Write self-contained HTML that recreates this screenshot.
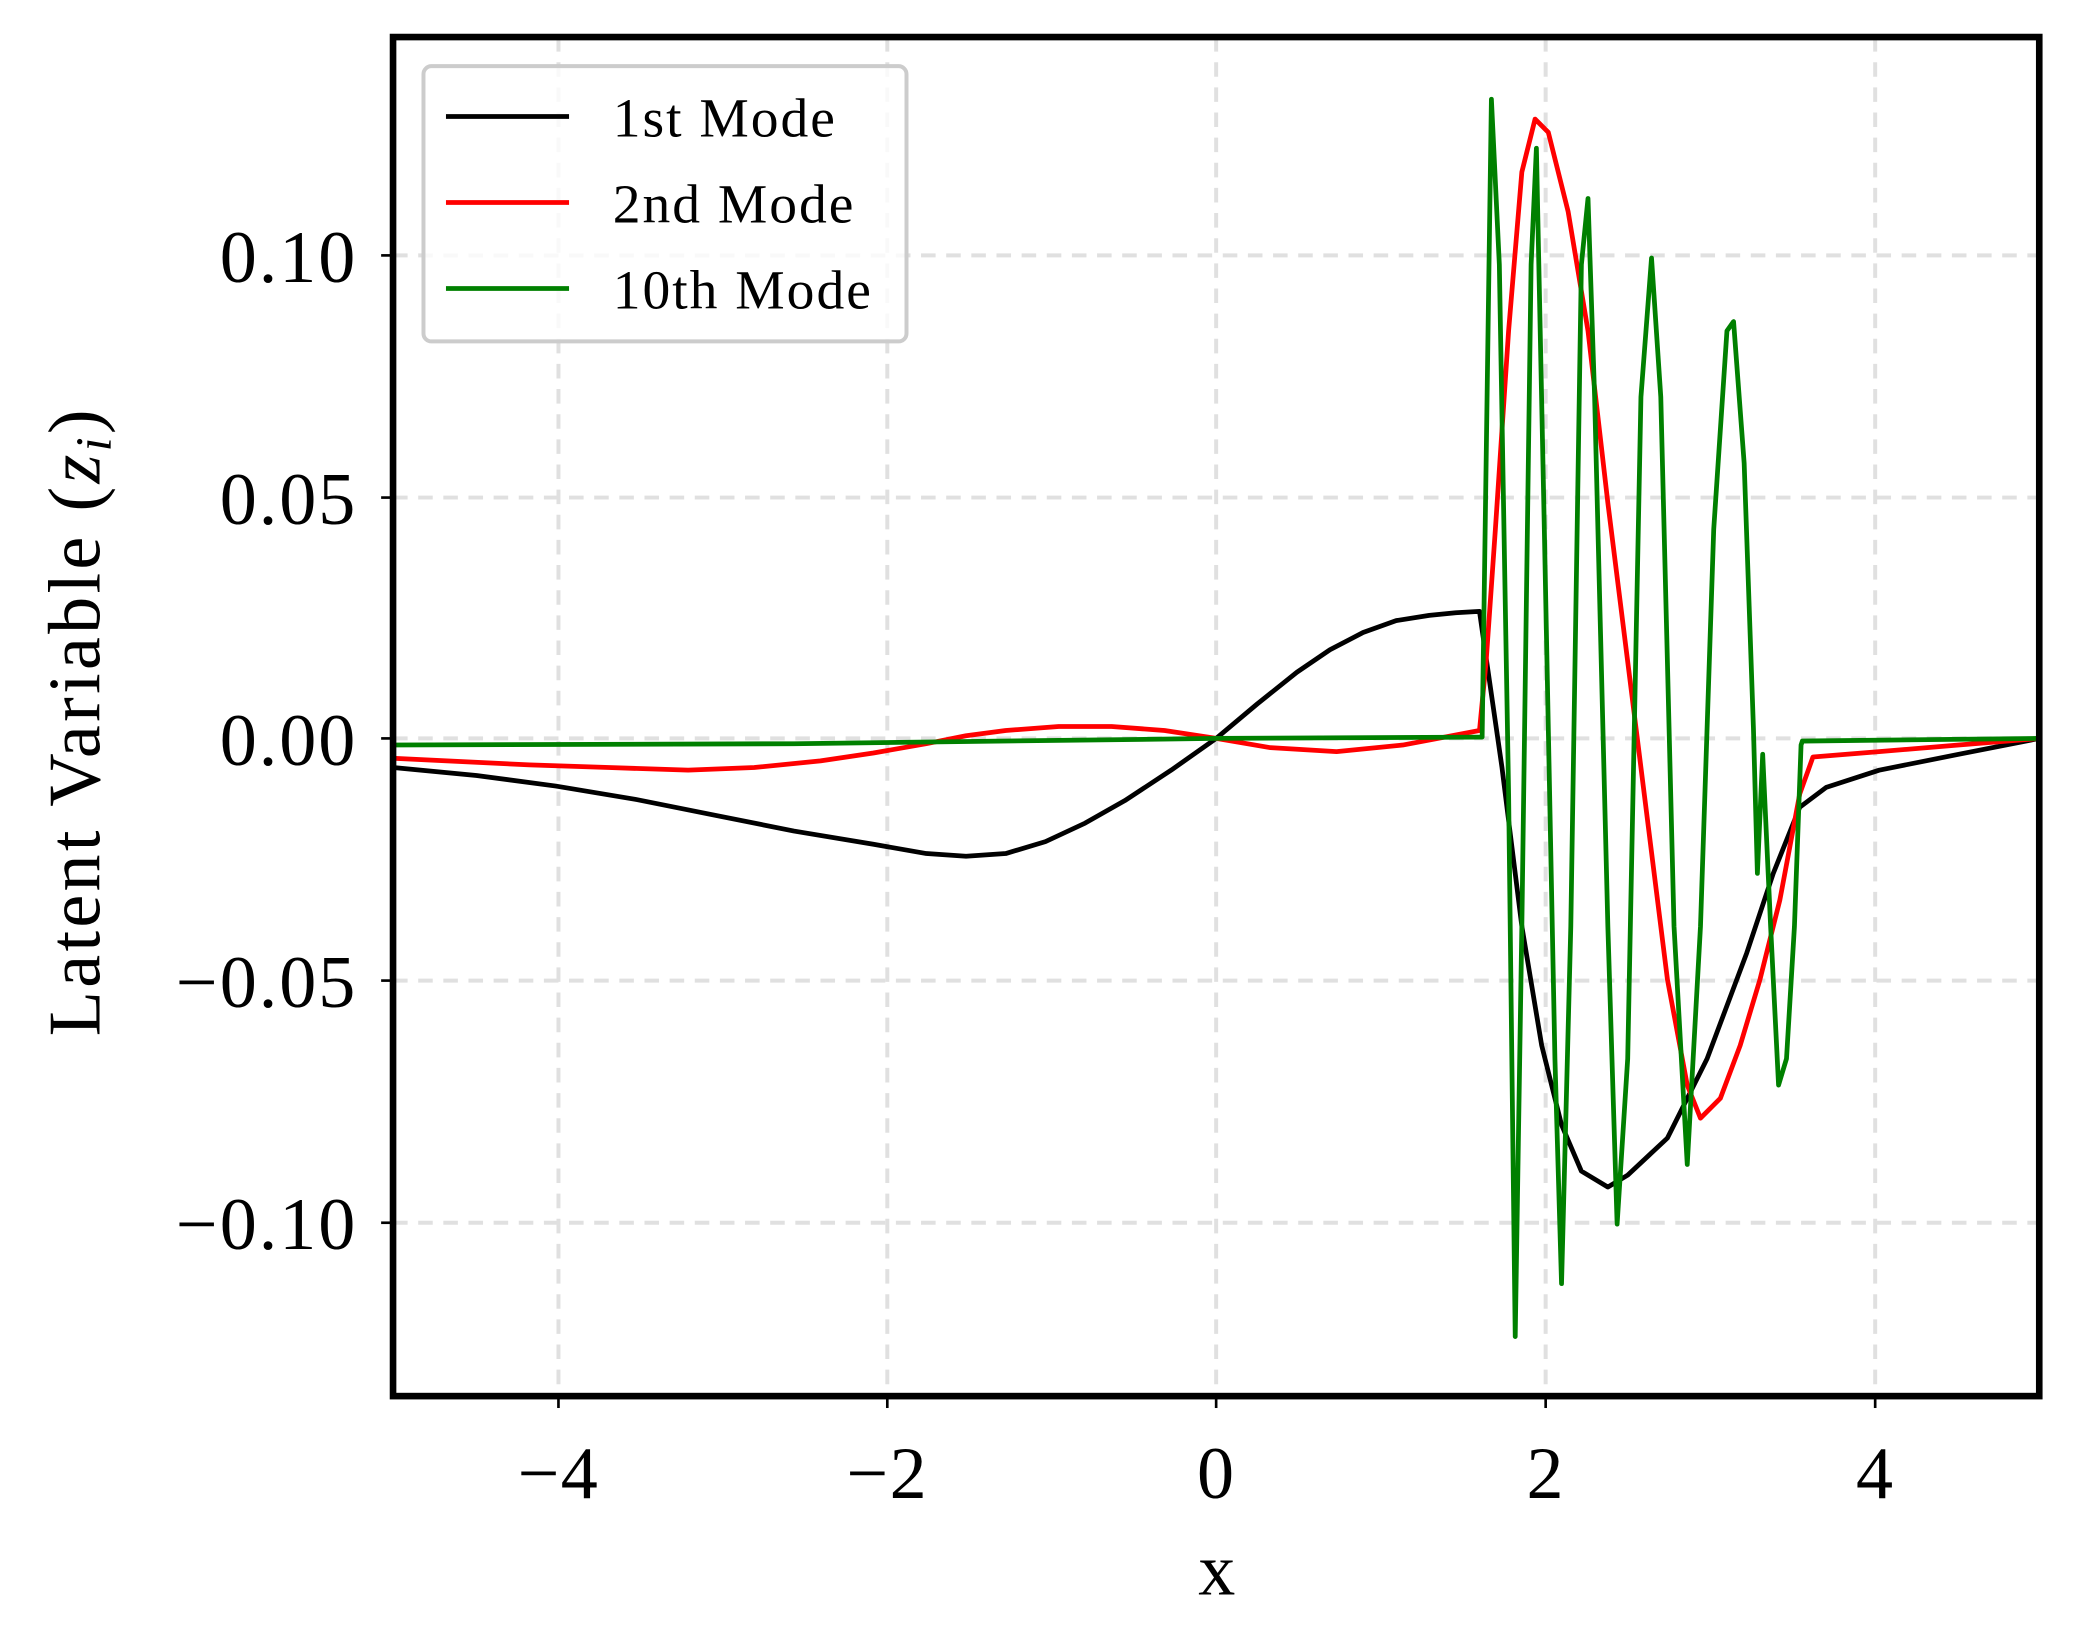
<!DOCTYPE html>
<html><head><meta charset="utf-8"><style>
html,body{margin:0;padding:0;background:#fff;}
svg{display:block;}
text{font-family:"Liberation Serif",serif;fill:#000;}
</style></head><body>
<svg width="2075" height="1631" viewBox="0 0 1568 1232.5" xmlns="http://www.w3.org/2000/svg">
<rect width="1568" height="1232.5" fill="#fff"/>
<g stroke="#e0e0e0" stroke-width="3" stroke-dasharray="11,8">
<line x1="422" y1="28" x2="422" y2="1055"/>
<line x1="670.5" y1="28" x2="670.5" y2="1055"/>
<line x1="919" y1="28" x2="919" y2="1055"/>
<line x1="1168" y1="28" x2="1168" y2="1055"/>
<line x1="1417" y1="28" x2="1417" y2="1055"/>
<line x1="297" y1="193" x2="1541" y2="193"/>
<line x1="297" y1="376" x2="1541" y2="376"/>
<line x1="297" y1="558" x2="1541" y2="558"/>
<line x1="297" y1="741" x2="1541" y2="741"/>
<line x1="297" y1="924" x2="1541" y2="924"/>
</g>
<g fill="none" stroke-width="3.6" stroke-linejoin="round">
<polyline stroke="#000" points="297,580 360,586 420,594 480,604 540,616 600,628 660,638 700,645 730,647 760,645 790,636 820,622 850,605 885,582 919,558 950,532 980,508 1005,491 1030,478 1055,469 1080,465 1100,463 1118,462 1122,490 1135,580 1150,700 1165,790 1180,850 1195,885 1215,897 1230,888 1260,860 1290,800 1320,720 1340,660 1360,610 1380,595 1420,582 1480,570 1541,558"/>
<polyline stroke="#ff0000" points="297,573 400,578 460,580 520,582 570,580 620,575 660,569 700,562 730,556 760,552 800,549 840,549 880,552 919,558 960,565 1010,568 1060,563 1118,552 1123,500 1130,400 1140,250 1150,130 1160,90 1170,100 1185,160 1200,250 1215,380 1230,500 1245,620 1260,740 1275,820 1285,845 1300,830 1315,790 1330,740 1345,680 1360,600 1370,572 1420,568 1480,563 1541,558"/>
<polyline stroke="#008000" points="297,563 600,562 919,558 1118,557 1120,557 1127,75 1133,200 1140,600 1145,1010 1150,700 1157,200 1161,112 1167,400 1175,800 1180,970 1187,700 1195,200 1200,150 1205,300 1215,700 1222,925 1230,800 1240,300 1248,195 1255,300 1265,700 1275,880 1285,700 1295,400 1305,250 1310,243 1318,350 1325,550 1328,660 1332,570 1338,700 1344,820 1350,800 1356,700 1361,563 1362,560 1541,558"/>
</g>
<rect x="297" y="28" width="1244" height="1027" fill="none" stroke="#000" stroke-width="5"/>
<g stroke="#000" stroke-width="2">
<line x1="422" y1="1055" x2="422" y2="1064"/><line x1="670.5" y1="1055" x2="670.5" y2="1064"/><line x1="919" y1="1055" x2="919" y2="1064"/><line x1="1168" y1="1055" x2="1168" y2="1064"/><line x1="1417" y1="1055" x2="1417" y2="1064"/>
<line x1="288" y1="193" x2="297" y2="193"/><line x1="288" y1="376" x2="297" y2="376"/><line x1="288" y1="558" x2="297" y2="558"/><line x1="288" y1="741" x2="297" y2="741"/><line x1="288" y1="924" x2="297" y2="924"/>
</g>
<g font-size="56" text-anchor="middle" letter-spacing="1">
<text x="422" y="1132">−4</text><text x="670.5" y="1132">−2</text><text x="919" y="1132">0</text><text x="1168" y="1132">2</text><text x="1417" y="1132">4</text>
<text x="920" y="1205">x</text>
</g>
<g font-size="56" text-anchor="end" letter-spacing="1.5">
<text x="270" y="213">0.10</text><text x="270" y="396">0.05</text><text x="270" y="578">0.00</text><text x="270" y="761">−0.05</text><text x="270" y="944">−0.10</text>
</g>
<text font-size="56" text-anchor="middle" letter-spacing="2.5" transform="translate(75,545) rotate(-90)">Latent Variable (<tspan font-style="italic">z<tspan font-size="38" dy="9">i</tspan></tspan><tspan dy="-9">)</tspan></text>
<rect x="320" y="50" width="365" height="208" rx="6" fill="#fff" fill-opacity="0.8" stroke="#ccc" stroke-width="3"/>
<g stroke-width="3.6"><line x1="337" y1="88" x2="430" y2="88" stroke="#000"/><line x1="337" y1="153" x2="430" y2="153" stroke="#f00"/><line x1="337" y1="218" x2="430" y2="218" stroke="#008000"/></g>
<g font-size="42" letter-spacing="1.5"><text x="463" y="103">1st Mode</text><text x="463" y="168">2nd Mode</text><text x="463" y="233">10th Mode</text></g>
</svg>
</body></html>
